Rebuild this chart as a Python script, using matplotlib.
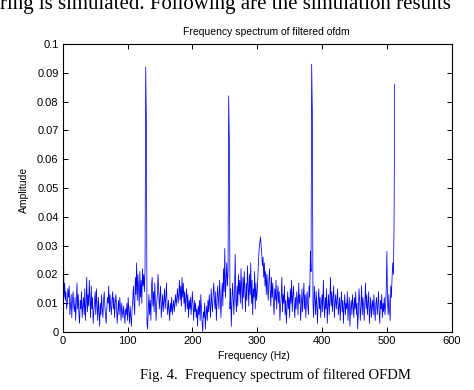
import numpy as np
import matplotlib
matplotlib.use('Agg')
import matplotlib.pyplot as plt

# spectrum sampled every 1 Hz from 0 to 512 Hz (16 samples per row)
amplitude = [
    0.072, 0.030, 0.012, 0.017, 0.011, 0.014, 0.008, 0.010, 0.015, 0.012, 0.016, 0.006, 0.009, 0.013, 0.005, 0.011,
    0.014, 0.009, 0.007, 0.012, 0.004, 0.010, 0.017, 0.008, 0.013, 0.006, 0.003, 0.011, 0.008, 0.014, 0.005, 0.009,
    0.012, 0.006, 0.015, 0.004, 0.010, 0.019, 0.007, 0.013, 0.009, 0.018, 0.011, 0.005, 0.016, 0.008, 0.012, 0.003,
    0.007, 0.010, 0.014, 0.006, 0.015, 0.009, 0.004, 0.012, 0.007, 0.002, 0.010, 0.006, 0.013, 0.008, 0.005, 0.011,
    0.014, 0.009, 0.006, 0.003, 0.008, 0.012, 0.010, 0.016, 0.007, 0.013, 0.009, 0.006, 0.011, 0.014, 0.008, 0.012,
    0.005, 0.010, 0.013, 0.009, 0.003, 0.007, 0.011, 0.006, 0.012, 0.009, 0.004, 0.010, 0.007, 0.005, 0.009, 0.006,
    0.003, 0.008, 0.006, 0.010, 0.004, 0.012, 0.007, 0.003, 0.009, 0.005, 0.002, 0.008, 0.011, 0.016, 0.010, 0.006,
    0.019, 0.013, 0.024, 0.011, 0.020, 0.015, 0.009, 0.021, 0.012, 0.018, 0.010, 0.022, 0.016, 0.020, 0.014, 0.022,
    0.092, 0.074, 0.003, 0.001, 0.008, 0.013, 0.006, 0.011, 0.004, 0.016, 0.019, 0.009, 0.014, 0.007, 0.017, 0.011,
    0.004, 0.010, 0.013, 0.020, 0.015, 0.008, 0.012, 0.016, 0.005, 0.009, 0.013, 0.007, 0.011, 0.015, 0.008, 0.012,
    0.017, 0.009, 0.006, 0.011, 0.008, 0.004, 0.010, 0.007, 0.012, 0.006, 0.009, 0.011, 0.007, 0.010, 0.013, 0.009,
    0.012, 0.015, 0.010, 0.013, 0.018, 0.011, 0.016, 0.009, 0.019, 0.012, 0.017, 0.010, 0.014, 0.007, 0.012, 0.015,
    0.008, 0.013, 0.005, 0.011, 0.008, 0.012, 0.006, 0.010, 0.014, 0.009, 0.004, 0.011, 0.007, 0.010, 0.005, 0.008,
    0.002, 0.009, 0.006, 0.011, 0.004, 0.013, 0.008, 0.003, 0.000, 0.007, 0.005, 0.010, 0.001, 0.006, 0.009, 0.004,
    0.011, 0.007, 0.013, 0.009, 0.005, 0.015, 0.010, 0.007, 0.013, 0.017, 0.011, 0.008, 0.014, 0.004, 0.010, 0.016,
    0.012, 0.008, 0.018, 0.013, 0.005, 0.011, 0.017, 0.009, 0.022, 0.014, 0.029, 0.012, 0.018, 0.024, 0.016, 0.021,
    0.082, 0.066, 0.008, 0.015, 0.002, 0.010, 0.017, 0.012, 0.006, 0.014, 0.027, 0.011, 0.007, 0.016, 0.009, 0.020,
    0.013, 0.018, 0.010, 0.022, 0.015, 0.008, 0.019, 0.012, 0.021, 0.014, 0.007, 0.017, 0.011, 0.023, 0.016, 0.009,
    0.020, 0.013, 0.024, 0.010, 0.018, 0.006, 0.015, 0.012, 0.021, 0.008, 0.017, 0.011, 0.014, 0.019, 0.025, 0.029,
    0.031, 0.033, 0.030, 0.027, 0.023, 0.026, 0.019, 0.024, 0.016, 0.021, 0.013, 0.020, 0.015, 0.011, 0.018, 0.022,
    0.014, 0.009, 0.019, 0.012, 0.017, 0.010, 0.006, 0.015, 0.011, 0.018, 0.008, 0.013, 0.016, 0.010, 0.014, 0.004,
    0.009, 0.012, 0.019, 0.007, 0.013, 0.010, 0.016, 0.006, 0.011, 0.003, 0.009, 0.014, 0.008, 0.012, 0.005, 0.015,
    0.010, 0.018, 0.007, 0.013, 0.016, 0.009, 0.005, 0.012, 0.008, 0.014, 0.011, 0.006, 0.017, 0.010, 0.013, 0.004,
    0.009, 0.015, 0.007, 0.012, 0.017, 0.008, 0.013, 0.005, 0.011, 0.014, 0.009, 0.006, 0.016, 0.012, 0.028, 0.021,
    0.093, 0.077, 0.010, 0.005, 0.016, 0.012, 0.006, 0.014, 0.009, 0.003, 0.011, 0.015, 0.008, 0.012, 0.005, 0.010,
    0.013, 0.007, 0.018, 0.010, 0.005, 0.012, 0.008, 0.015, 0.003, 0.009, 0.013, 0.006, 0.011, 0.019, 0.009, 0.014,
    0.007, 0.012, 0.016, 0.005, 0.010, 0.013, 0.008, 0.011, 0.015, 0.006, 0.009, 0.012, 0.004, 0.010, 0.014, 0.007,
    0.011, 0.003, 0.009, 0.013, 0.006, 0.010, 0.008, 0.014, 0.004, 0.009, 0.012, 0.002, 0.008, 0.011, 0.006, 0.013,
    0.009, 0.005, 0.012, 0.008, 0.014, 0.006, 0.010, 0.001, 0.007, 0.015, 0.011, 0.004, 0.009, 0.016, 0.006, 0.012,
    0.009, 0.004, 0.011, 0.017, 0.008, 0.013, 0.006, 0.010, 0.014, 0.003, 0.008, 0.012, 0.005, 0.009, 0.011, 0.006,
    0.013, 0.008, 0.004, 0.010, 0.012, 0.006, 0.009, 0.014, 0.007, 0.003, 0.011, 0.008, 0.013, 0.005, 0.010, 0.007,
    0.012, 0.006, 0.009, 0.015, 0.028, 0.010, 0.006, 0.013, 0.008, 0.004, 0.016, 0.012, 0.019, 0.024, 0.020, 0.035,
    0.086,
]
freq = np.arange(len(amplitude))

x_ticks = [0, 100, 200, 300, 400, 500, 600]
y_ticks = [0, 0.01, 0.02, 0.03, 0.04, 0.05, 0.06, 0.07, 0.08, 0.09, 0.1]
y_tick_labels = ['0', '0.01', '0.02', '0.03', '0.04', '0.05', '0.06', '0.07', '0.08', '0.09', '0.1']

plt.rcParams['font.family'] = ['Liberation Sans', 'DejaVu Sans']

fig = plt.figure(figsize=(4.74, 3.9), dpi=100)
ax = fig.add_axes([0.1323, 0.1487, 0.8207, 0.7385])

ax.plot(freq, amplitude, color='#0000ff', lw=0.55)

ax.set_xlim(0, 600)
ax.set_ylim(0, 0.1)
ax.set_xticks(x_ticks)
ax.set_yticks(y_ticks)
ax.set_yticklabels(y_tick_labels)
ax.tick_params(direction='in', length=3.5, width=0.7, labelsize=8,
               top=True, right=True, pad=3)
for sp in ax.spines.values():
    sp.set_linewidth(0.8)

fig.text(266 / 474, 1 - 32 / 390, 'Frequency spectrum of filtered ofdm',
         ha='center', va='center', fontsize=7.5)
fig.text(254 / 474, 1 - 356 / 390, 'Frequency (Hz)', ha='center', va='center', fontsize=7.5)
fig.text(24 / 474, 1 - 190 / 390, 'Amplitude', ha='center', va='center',
         rotation=90, fontsize=7.5)

# surrounding page text (cut at the top edge, as in the scan)
fig.text(0, 1 - 9 / 390, 'ring is simulated. Following are the simulation results',
         ha='left', va='baseline', fontsize=15, family='Liberation Serif')
fig.text(275 / 474, 1 - 375 / 390, 'Fig. 4.  Frequency spectrum of filtered OFDM',
         ha='center', va='center', fontsize=10.5, family='Liberation Serif')

fig.savefig('out.png', dpi=100)
